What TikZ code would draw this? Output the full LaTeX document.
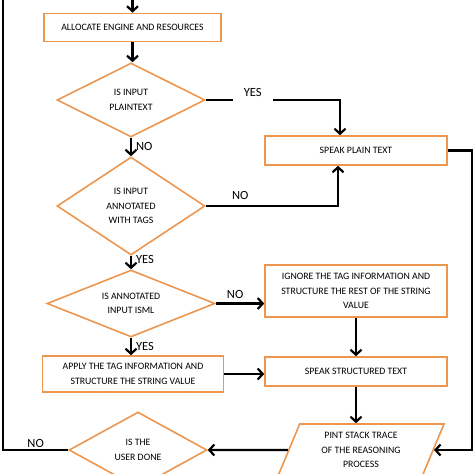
\documentclass[tikz,border=0pt]{standalone}
\usepackage{fontspec}
\setmainfont{Carlito}
\usetikzlibrary{shapes.geometric,arrows.meta,positioning}
\definecolor{boxorange}{RGB}{237,150,80}

\begin{document}
\begin{tikzpicture}[x=1pt, y=-1pt, align=center,
      font=\fontsize{9.8}{14.5}\selectfont,
      process/.style={draw=boxorange, line width=1.6pt, fill=white, inner sep=1pt },
     decision/.style={draw=boxorange, line width=1.6pt, diamond, inner sep=0pt, shape aspect=2 },
        inout/.style={draw=boxorange, line width=1.6pt, trapezium, inner sep=0pt,
                      trapezium left angle=58.5, trapezium right angle=121.5,
                      trapezium stretches body },
          lbl/.style={font=\fontsize{12.5}{14}\selectfont, inner sep=1pt },  ]

    \useasboundingbox (0,0) rectangle (474,474);

    \node[process,  minimum width=177pt, minimum height=28pt] (alloc)      at (132.5,27.5) {ALLOCATE ENGINE AND RESOURCES};
    \node[decision, minimum width=148pt, minimum height=74pt] (plain)      at (131,100)    {IS INPUT\\PLAINTEXT};
    \node[decision, minimum width=148pt, minimum height=98pt,
          shape aspect=1.5                                  ] (tags)       at (131,206)    {IS INPUT\\ANNOTATED\\WITH TAGS};
    \node[decision, minimum width=168pt, minimum height=67pt,
          shape aspect=2.5                                  ] (isml)       at (131,303.5)  {IS ANNOTATED\\INPUT ISML};
    \node[process,  minimum width=181pt, minimum height=36pt] (apply)      at (133,374)    {APPLY THE TAG INFORMATION AND\\STRUCTURE THE STRING VALUE};
    \node[decision, minimum width=138pt, minimum height=76pt,
          shape aspect=1.8                                  ] (done)       at (138,450)    {IS THE\\USER DONE};

    \node[process,  minimum width=182pt, minimum height=29pt] (speakplain) at (356,150.5)  {SPEAK PLAIN TEXT};
    \node[process,  minimum width=182pt, minimum height=52pt] (ignore)     at (356,291)    {IGNORE THE TAG INFORMATION AND\\STRUCTURE THE REST OF THE STRING\\VALUE};
    \node[process,  minimum width=182pt, minimum height=29pt] (struct)     at (356,371.5)  {SPEAK STRUCTURED TEXT};
    \node[inout,    minimum width=166pt, minimum height=52pt] (trace)      at (361,450)    {PINT STACK TRACE\\OF THE REASONING\\PROCESS};

    \coordinate (loop)   at (3,-20);
    \coordinate (yesin)  at ([xshift=-16pt]speakplain.north);
    \coordinate (noin)   at ([xshift=-18pt]speakplain.south);
    \coordinate (rightc) at (472,300);

    \begin{scope}[line width=2.2pt, >={Straight Barb[length=5pt,width=11pt]} ]
        \draw[->] (done.west) -- node[lbl, above, pos=0.5] {NO} (done.west -| loop) -- (loop) -| (alloc.north);
        \draw[->] (alloc.south) -- (alloc.south |- plain.north);
        \draw[->] (plain.east) -- node[lbl, pos=0.35, fill=white, minimum width=40pt,
                    minimum height=20pt, yshift=8pt] {YES} (plain.east -| yesin) -- (yesin);
        \draw[->] (plain.south) -- node[lbl, right=3pt, pos=0.45] {NO}  (tags.north);
        \draw[->] (tags.east)   -- node[lbl, above=4pt, pos=0.26] {NO} (tags.east -| noin) -- (noin);
        \draw[->] (tags.south)  -- node[lbl, right=3pt, pos=0.3] {YES} (isml.north);
        \draw[->] (isml.east)   -- node[lbl, above=3pt, pos=0.4] {NO}  (ignore.west |- isml.east);
        \draw[->] (isml.south)  -- node[lbl, right=3pt, pos=0.5] {YES} (isml.south |- apply.north);
        \draw[->] (apply.east)  -- (apply.east -| struct.west);
        \draw[->] (ignore.south) -- (struct.north);
        \draw[->] (struct.south) -- (struct.south |- trace.north);
        \draw[->] (speakplain.east) -| (rightc) |- (trace.east);
        \draw[->] (trace.west)  -- (done.east);
    \end{scope}

  \end{tikzpicture}
\end{document}
